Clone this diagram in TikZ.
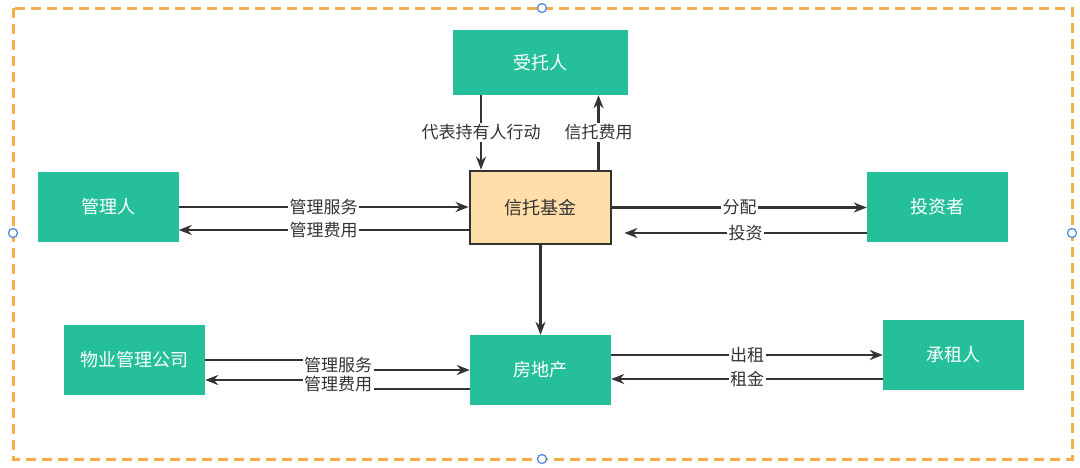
\documentclass[tikz,border=0pt]{standalone}
\usepackage{fontspec}
\newfontfamily\cjk{Noto Sans CJK SC}
\usetikzlibrary{arrows.meta, positioning}

\definecolor{boxgreen}{HTML}{26BF9B}
\definecolor{fundfill}{HTML}{FFDEAA}
\definecolor{linegray}{HTML}{333333}
\definecolor{frameorange}{HTML}{F3B04A}
\definecolor{handleblue}{HTML}{4A86D8}

\begin{document}
\begin{tikzpicture}[x=1pt, y=-1pt, >={Stealth[length=13pt,width=10pt]}, font=\cjk]
  \tikzset{
    box/.style={
      fill=boxgreen,
      text=white,
      minimum width=141pt,
      minimum height=70pt,
      font=\cjk\fontsize{18}{21}\selectfont,
      text centered},
    fund/.style={
      draw=linegray,
      line width=2.8pt,
      fill=fundfill,
      text=linegray,
      minimum width=141pt,
      minimum height=73pt,
      font=\cjk\fontsize{18}{21}\selectfont,
      text centered},
    lbl/.style={
      fill=white,
      text=linegray,
      inner sep=1.5pt,
      font=\cjk\fontsize{17}{20}\selectfont},
    flow/.style={
      draw=linegray,
      line width=2.8pt}}

  \useasboundingbox (0,0) rectangle (1080,467);

  % selection frame
  \draw[frameorange, line width=3pt, dash pattern=on 10pt off 6pt] (13,8) rectangle (1072,459);
  \foreach \p in {(542,8),(13,233),(1072,233),(542,459)}
    \draw[handleblue, fill=white, line width=1.2pt] \p circle (4.5pt);

  \node[box, minimum width=175pt, minimum height=65pt] (trustee) at (540.5,62.5) {受托人};
  \node[fund] (fund) at (540.5,207.5) {信托基金};
  \node[box] (manager) at (108,207) {管理人};
  \node[box] (investor) at (937.5,207) {投资者};
  \node[box] (propmgr) at (134.5,360) {物业管理公司};
  \node[box] (estate) at (540.5,370) {房地产};
  \node[box] (tenant) at (953.5,355) {承租人};

  % trustee <-> fund
  \draw[flow,->] ([xshift=-59.5pt]trustee.south) -- ([xshift=-59.5pt]fund.north)
    node[lbl, midway] {代表持有人行动};
  \draw[flow,->] ([xshift=58pt]fund.north) -- ([xshift=58pt]trustee.south)
    node[lbl, midway] {信托费用};

  % manager <-> fund
  \coordinate (feeA) at ([yshift=-22.5pt]fund.west);
  \draw[flow,->] (manager.east) -- (manager.east -| fund.west)
    node[lbl, midway] {管理服务};
  \draw[flow,->] (feeA) -- (feeA -| manager.east)
    node[lbl, midway] {管理费用};

  % fund <-> investor
  \coordinate (invA) at ([yshift=-26pt]investor.west);
  \path (invA -| fund.east) ++(12,0) coordinate (invB);
  \draw[flow,->] (fund.east) -- (fund.east -| investor.west)
    node[lbl, midway] {分配};
  \draw[flow,->] (invA) -- (invB)
    node[lbl, midway] {投资};

  % fund -> estate
  \draw[flow,->] (fund.south) -- (estate.north);

  % property manager <-> estate
  \coordinate (jog1) at (338,365.5);
  \coordinate (jog2) at (338,384.5);
  \draw[flow,->] (propmgr.east) -| (jog1) node[lbl] {管理服务} |- (estate.west);
  \draw[flow,->] ([yshift=-19pt]estate.west) -| (jog2) node[lbl] {管理费用}
    |- ([yshift=-20pt]propmgr.east);

  % estate <-> tenant
  \coordinate (rentA) at ([yshift=-24pt]tenant.west);
  \draw[flow,->] ([yshift=15pt]estate.east) -- (tenant.west)
    node[lbl, midway] {出租};
  \draw[flow,->] (rentA) -- (rentA -| estate.east)
    node[lbl, midway] {租金};

\end{tikzpicture}
\end{document}
